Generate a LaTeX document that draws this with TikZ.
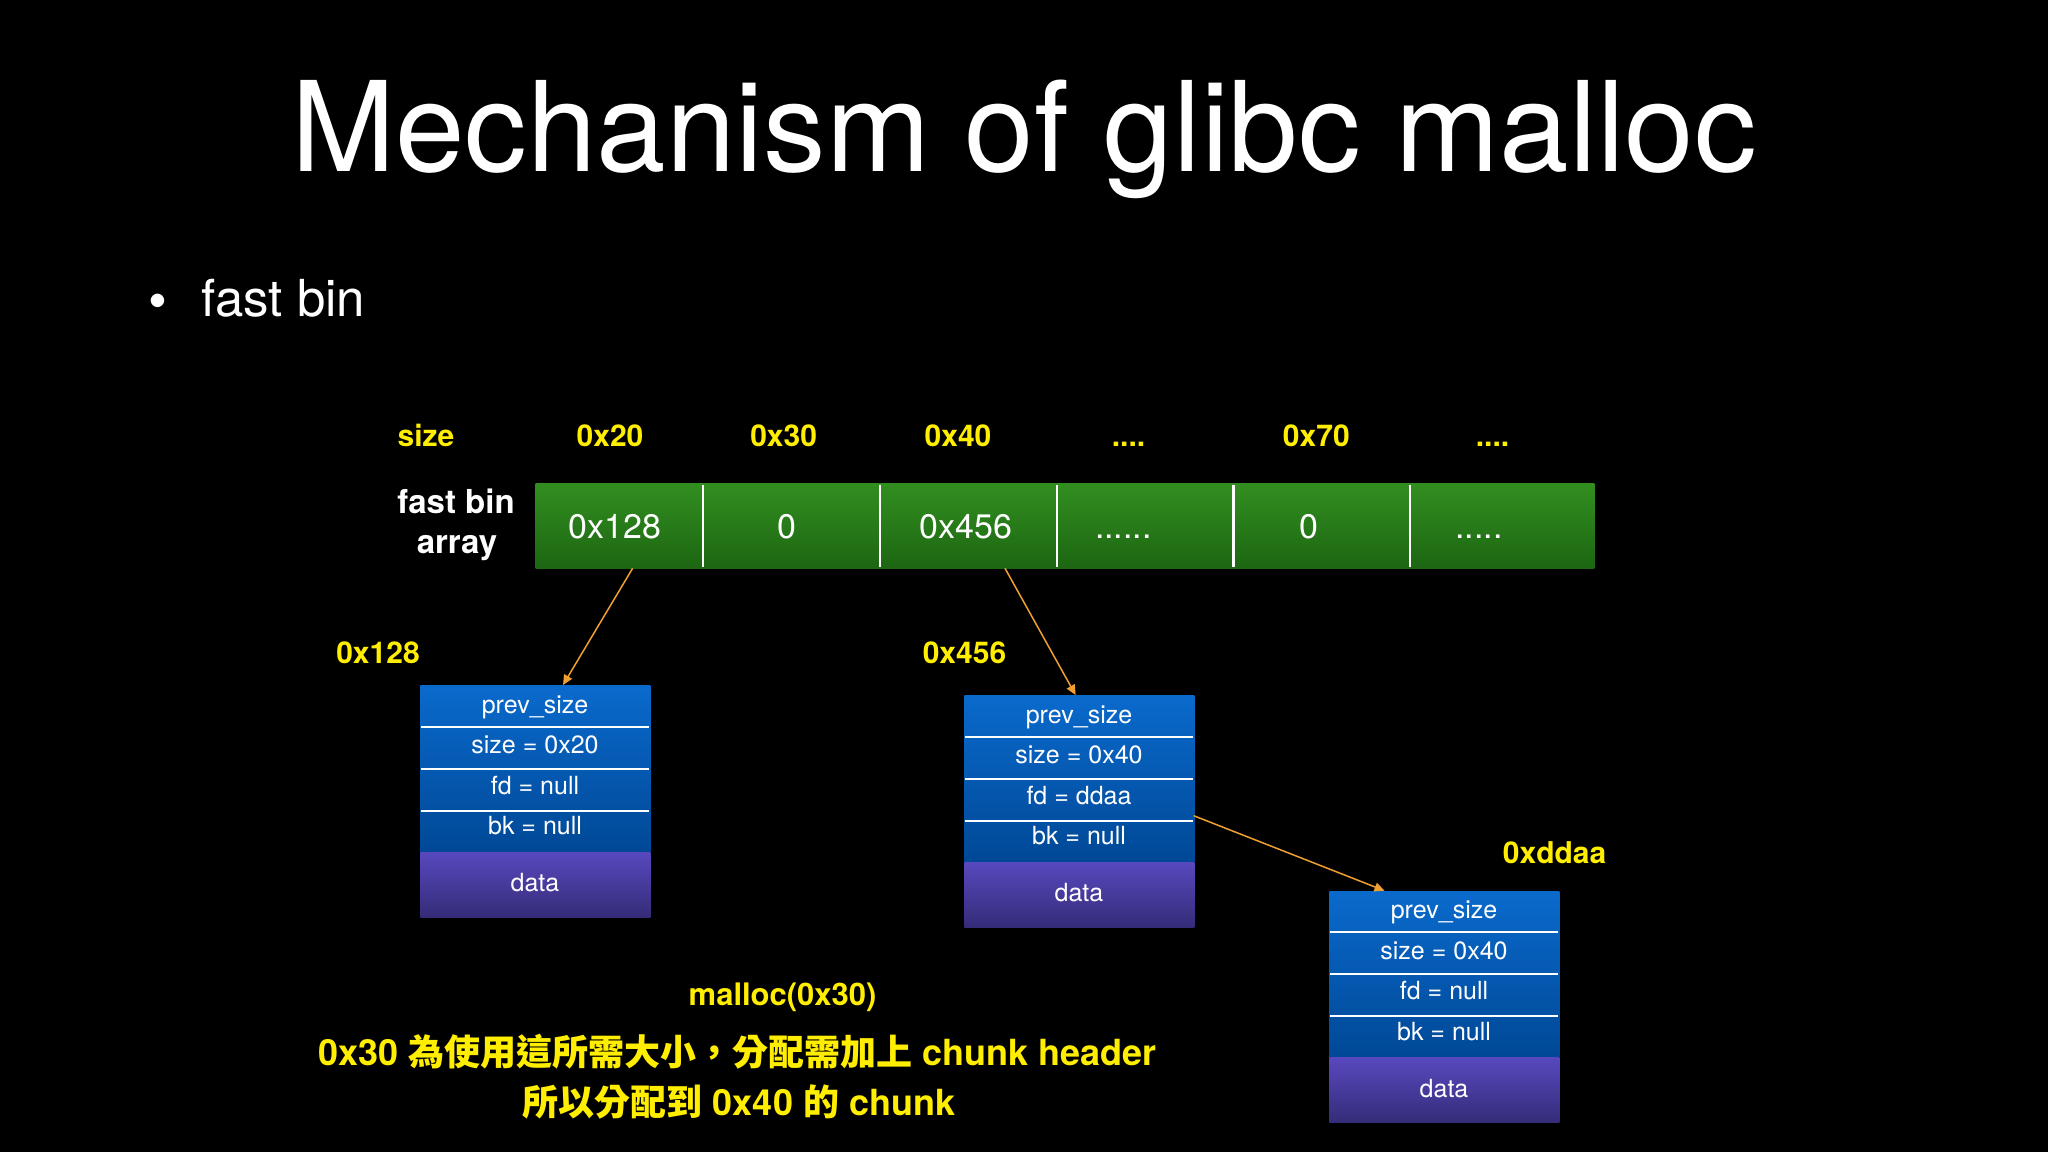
\documentclass[tikz,border=0pt]{standalone}
\usepackage{fontspec}
\setmainfont{TeX Gyre Heros}
\newfontfamily\cjk{Noto Sans CJK TC}
\usetikzlibrary{arrows.meta}
\definecolor{yel}{RGB}{255,238,0}
\definecolor{grn1}{RGB}{50,142,32}
\definecolor{grn2}{RGB}{28,102,18}
\definecolor{blu1}{RGB}{10,106,204}
\definecolor{blu2}{RGB}{0,72,150}
\definecolor{pur1}{RGB}{88,72,190}
\definecolor{pur2}{RGB}{52,44,120}
\definecolor{org}{RGB}{240,160,48}
\tikzset{
  ylab/.style={anchor=base,inner sep=0pt,text=yel,font=\bfseries\fontsize{15}{18}\selectfont},
  wlab/.style={anchor=base,inner sep=0pt,text=white,font=\bfseries\fontsize{16.5}{20}\selectfont},
  cval/.style={anchor=base,inner sep=0pt,text=white,font=\fontsize{17}{20}\selectfont},
  ctext/.style={anchor=base,inner sep=0pt,text=white,font=\fontsize{12.5}{15}\selectfont},
  barbox/.style={rectangle,inner sep=0pt,draw=none,top color=grn1,bottom color=grn2},
  hdrbox/.style={rectangle,inner sep=0pt,draw=none,minimum width=115pt,minimum height=83.35pt,top color=blu1,bottom color=blu2},
  databox/.style={rectangle,inner sep=0pt,draw=none,minimum width=115pt,minimum height=32.5pt,top color=pur1,bottom color=pur2},
  bardiv/.style={draw=white,line width=1.1pt},
  chdiv/.style={draw=white,line width=1pt},
  ptr/.style={draw=org,line width=0.75pt,-{Triangle[length=5pt,width=4.5pt]}},
  note/.style={anchor=base,inner sep=0pt,text=yel,font=\bfseries\fontsize{18}{22}\selectfont}
}
\newcommand\mkchunk[5]{%
  \begin{scope}[shift={(#2,#3)}]
    \node[hdrbox,anchor=north west] (#1h) at (0,0) {};
    \node[databox,anchor=north west] (#1d) at (0,166.7) {};
    \draw[chdiv] (1,41.7) -- (229,41.7);
    \draw[chdiv] (1,83.7) -- (229,83.7);
    \draw[chdiv] (1,125.7) -- (229,125.7);
    \node[ctext] (#1r1) at (115,28) {prev\_size};
    \node[ctext] (#1r2) at (115,68.5) {size = #4};
    \node[ctext] (#1r3) at (115,109) {fd = #5};
    \node[ctext] (#1r4) at (115,149.5) {bk = null};
    \node[ctext] (#1r5) at (115,206.5) {data};
  \end{scope}}
\begin{document}
\begin{tikzpicture}[x=0.5pt,y=-0.5pt]
\path[fill=black] (0,0) rectangle (2048,1152);
\useasboundingbox (0,0) rectangle (2048,1152);
% title and bullet
\node[anchor=base,inner sep=0pt,text=white,font=\fontsize{62.5}{70}\selectfont] (title) at (1024,171.7) {Mechanism of glibc malloc};
\node[inner sep=0pt,text=white,font=\fontsize{27}{30}\selectfont] (bul) at (158,307) {•};
\node[anchor=base west,inner sep=0pt,text=white,font=\fontsize{25.5}{30}\selectfont] (fb) at (201,316.7) {fast bin};
% header row
\node[ylab] (hsize) at (426,446.7) {size};
\node[ylab] (h20) at (610,446.7) {0x20};
\node[ylab] (h30) at (783.6,446.7) {0x30};
\node[ylab] (h40) at (958,446.7) {0x40};
\node[ylab] (hd1) at (1128.5,446.7) {....};
\node[ylab] (h70) at (1316.3,446.7) {0x70};
\node[ylab] (hd2) at (1492.5,446.7) {....};
\node[wlab] (fba) at (456,513) {fast bin};
\node[wlab] (fbb) at (457,553) {array};
% fast bin array
\node[barbox,anchor=north west,minimum width=529.3pt,minimum height=42.5pt] (bar) at (535.3,483.3) {};
\draw[bardiv] (703.2,485) -- (703.2,566.7);
\draw[bardiv] (880,485) -- (880,566.7);
\draw[bardiv] (1056.6,485) -- (1056.6,566.7);
\draw[bardiv] (1233.5,485) -- (1233.5,566.7);
\draw[bardiv] (1410.2,485) -- (1410.2,566.7);
\node[cval] (v1) at (615,538.3) {0x128};
\node[cval] (v2) at (786.6,538.3) {0};
\node[cval] (v3) at (965.8,538.3) {0x456};
\node[cval] (v4) at (1123.4,538.3) {......};
\node[cval] (v5) at (1309,538.3) {0};
\node[cval] (v6) at (1478.8,538.3) {.....};
% chunks
\mkchunk{ca}{420}{685}{0x20}{null}
\mkchunk{cb}{964}{695}{0x40}{ddaa}
\mkchunk{cc}{1329}{890.7}{0x40}{null}
\node[ylab] (la) at (378,663.3) {0x128};
\node[ylab] (lb) at (964.5,663.3) {0x456};
\node[ylab] (lc) at (1554.6,863.3) {0xddaa};
% pointers
\coordinate (a1s) at (632.6,568.3);
\coordinate (a1e) at (563,685);
\coordinate (a2s) at (1005,568.3);
\coordinate (a2e) at (1075.6,695);
\coordinate (a3s) at (1193.7,815.7);
\coordinate (a3e) at (1384.5,890.7);
\draw[ptr] (a1s) -- (a1e);
\draw[ptr] (a2s) -- (a2e);
\draw[ptr] (a3s) -- (a3e);
% notes
\node[anchor=base,inner sep=0pt,text=yel,font=\bfseries\fontsize{15.5}{18}\selectfont] (mal) at (782.6,1005) {malloc(0x30)};
\node[note] (n1) at (737.7,1065) {0x30 {\cjk 為使用這所需大小，分配需加上} chunk header};
\node[note] (n2) at (739,1115) {{\cjk 所以分配到} 0x40 {\cjk 的} chunk};
\end{tikzpicture}
\end{document}
